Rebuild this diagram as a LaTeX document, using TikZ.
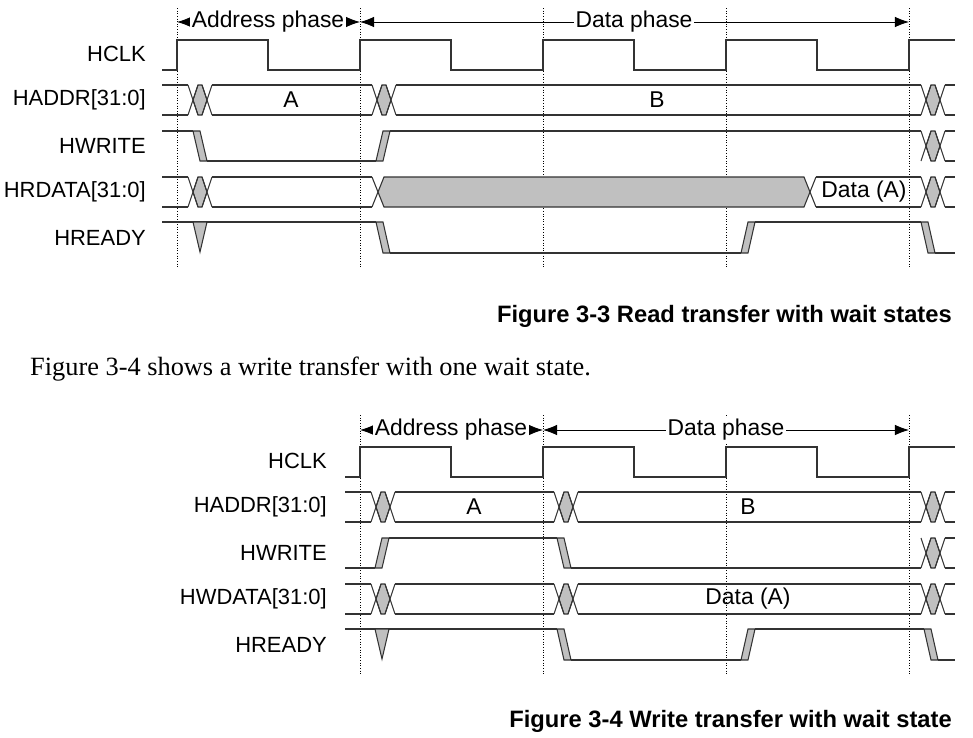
\documentclass[tikz,border=0pt]{standalone}
\usepackage{fontspec}
\setmainfont{Liberation Sans}
\newfontfamily\bodyfont{Liberation Serif}
\usetikzlibrary{arrows.meta}

% bus transition (double cross), x0 and top of the bus
\newcommand{\busx}[2]{%
  \filldraw[wave,fill=wavegray] ({#1+5},{#2+15}) -- ({#1+10},#2) -- ({#1+14},#2) -- ({#1+19},{#2+15}) -- ({#1+14},{#2+30}) -- ({#1+10},{#2+30}) -- cycle;
  \draw[wave] (#1,#2) -- ({#1+10},{#2+30}) (#1,{#2+30}) -- ({#1+10},#2)
              ({#1+14},#2) -- ({#1+24},{#2+30}) ({#1+14},{#2+30}) -- ({#1+24},#2);}
% falling and rising edges: x0, top, bottom
\newcommand{\falledge}[3]{\filldraw[wave,fill=wavegray] (#1,#2) -- ({#1+7},#2) -- ({#1+14},#3) -- ({#1+7},#3) -- cycle;}
\newcommand{\riseedge}[3]{\filldraw[wave,fill=wavegray] (#1,#3) -- ({#1+7},#3) -- ({#1+14},#2) -- ({#1+7},#2) -- cycle;}
% bus lines between two x positions, top of the bus
\newcommand{\busline}[3]{\draw[wave] (#1,#3) -- (#2,#3) (#1,{#3+30}) -- (#2,{#3+30});}

\definecolor{wavegray}{RGB}{192,192,192}
\tikzset{
  wave/.style={line width=0.6pt, draw=black!80},
  sig/.style={anchor=east, font=\fontsize{12.5}{14}\selectfont},
  val/.style={font=\fontsize{13}{15}\selectfont},
  edge/.style={densely dotted, line width=0.5pt},
  phase/.style={{Latex[length=8pt,width=6pt]}-{Latex[length=8pt,width=6pt]}, line width=0.5pt},
  phasetxt/.style={fill=white, inner sep=1pt, font=\fontsize{13}{15}\selectfont},
  caption/.style={font=\bfseries\fontsize{13.5}{16}\selectfont}
}

\begin{document}
\begin{tikzpicture}[x=0.02cm,y=-0.02cm]
\useasboundingbox (0,0) rectangle (973,737);

%Read transfer
\foreach \e in {177,360,543,726,909}
  \draw[edge] (\e,8) -- (\e,268);
\draw[phase] (177,22) -- (360,22);
\node[phasetxt] (addr1) at (268,22) {Address phase};
\draw[phase] (360,22) -- (909,22);
\node[phasetxt] (data1) at (634,22) {Data phase};

\node[sig] (hclk1) at (152,54) {HCLK};
\node[sig] (haddr1) at (152,100) {HADDR[31:0]};
\node[sig] (hwrite1) at (152,146) {HWRITE};
\node[sig] (hrdata1) at (152,192) {HRDATA[31:0]};
\node[sig] (hready1) at (152,238) {HREADY};

\draw[wave] (162,70) -- (177,70) -- (177,40) -- (268,40) -- (268,70) -- (360,70) -- (360,40) -- (451,40) -- (451,70)
  -- (543,70) -- (543,40) -- (634,40) -- (634,70) -- (726,70) -- (726,40) -- (817,40) -- (817,70) -- (909,70) -- (909,40) -- (955,40);

\busline{162}{188}{85} \busx{188}{85} \busline{212}{372}{85} \busx{372}{85} \busline{396}{921}{85} \busx{921}{85} \busline{945}{955}{85}
\node[val] (a1) at (291,100) {A};
\node[val] (b1) at (657,100) {B};

\draw[wave] (162,131) -- (193,131); \falledge{193}{131}{161} \draw[wave] (207,161) -- (376,161);
\riseedge{376}{131}{161} \draw[wave] (390,131) -- (921,131); \busx{921}{131} \busline{945}{955}{131}

\busline{162}{188}{177} \busx{188}{177} \busline{212}{372}{177}
\draw[wave] (372,177) -- (378,192) -- (372,207);
\filldraw[wave,fill=wavegray] (378,192) -- (384,177) -- (804,177) -- (810,192) -- (804,207) -- (384,207) -- cycle;
\draw[wave] (816,177) -- (810,192) -- (816,207);
\busline{816}{921}{177} \busx{921}{177} \busline{945}{955}{177}
\node[val] (da1) at (864,192) {Data (A)};

\draw[wave] (162,222) -- (376,222);
\filldraw[wave,fill=wavegray] (193,222) -- (207,222) -- (200,252) -- cycle;
\falledge{376}{222}{253} \draw[wave] (390,253) -- (741,253);
\riseedge{741}{222}{253} \draw[wave] (755,222) -- (921,222);
\falledge{921}{222}{253} \draw[wave] (935,253) -- (955,253);

\node[caption, anchor=east] (cap1) at (958,316) {Figure 3-3 Read transfer with wait states};
\node[anchor=west, font=\bodyfont\fontsize{15}{17}\selectfont] (body) at (24,369) {Figure 3-4 shows a write transfer with one wait state.};

%Write transfer
\begin{scope}[shift={(183,407)}]
\foreach \e in {177,360,543,726}
  \draw[edge] (\e,8) -- (\e,268);
\draw[phase] (177,23) -- (360,23);
\node[phasetxt] (addr2) at (268,23) {Address phase};
\draw[phase] (360,23) -- (726,23);
\node[phasetxt] (data2) at (543,23) {Data phase};

\node[sig] (hclk2) at (150,54) {HCLK};
\node[sig] (haddr2) at (150,100) {HADDR[31:0]};
\node[sig] (hwrite2) at (150,146) {HWRITE};
\node[sig] (hwdata2) at (150,192) {HWDATA[31:0]};
\node[sig] (hready2) at (150,238) {HREADY};

\draw[wave] (162,70) -- (177,70) -- (177,40) -- (268,40) -- (268,70) -- (360,70) -- (360,40) -- (451,40) -- (451,70)
  -- (543,70) -- (543,40) -- (634,40) -- (634,70) -- (726,70) -- (726,40) -- (772,40);

\busline{162}{188}{85} \busx{188}{85} \busline{212}{371}{85} \busx{371}{85} \busline{395}{738}{85} \busx{738}{85} \busline{762}{772}{85}
\node[val] (a2) at (291,100) {A};
\node[val] (b2) at (565,100) {B};

\draw[wave] (162,161) -- (192,161); \riseedge{192}{131}{161} \draw[wave] (206,131) -- (374,131);
\falledge{374}{131}{161} \draw[wave] (388,161) -- (738,161); \busx{738}{131} \busline{762}{772}{131}

\busline{162}{188}{177} \busx{188}{177} \busline{212}{371}{177} \busx{371}{177} \busline{395}{738}{177} \busx{738}{177} \busline{762}{772}{177}
\node[val] (da2) at (565,192) {Data (A)};

\draw[wave] (162,222) -- (374,222);
\filldraw[wave,fill=wavegray] (192,222) -- (206,222) -- (199,252) -- cycle;
\falledge{374}{222}{253} \draw[wave] (388,253) -- (558,253);
\riseedge{558}{222}{253} \draw[wave] (572,222) -- (741,222);
\falledge{741}{222}{253} \draw[wave] (755,253) -- (772,253);
\end{scope}

\node[caption, anchor=east] (cap2) at (958,721) {Figure 3-4 Write transfer with wait state};
\end{tikzpicture}
\end{document}
